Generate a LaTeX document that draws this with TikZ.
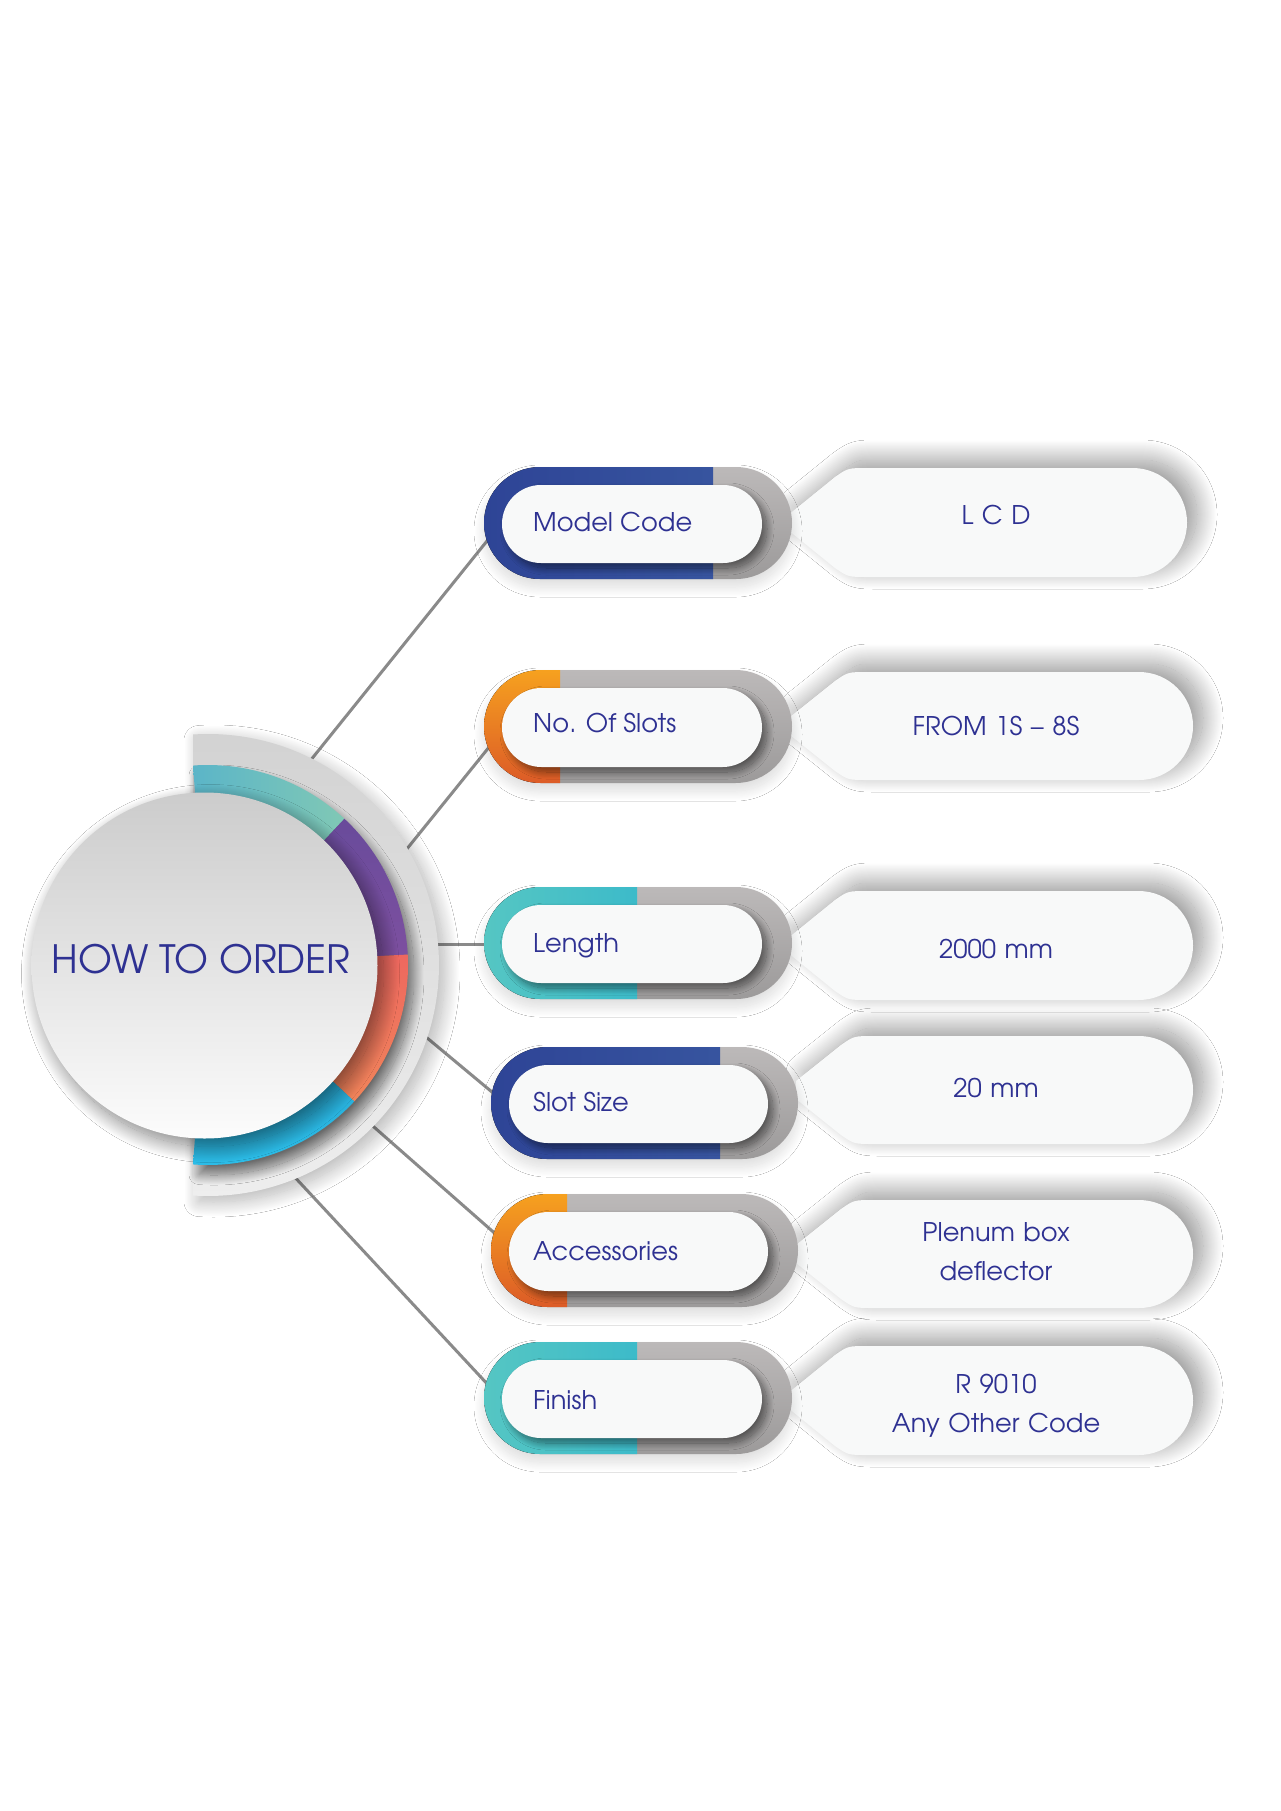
\documentclass[tikz,border=0pt]{standalone}
\usepackage{fontspec}
\setmainfont{TeX Gyre Adventor}
\usetikzlibrary{shapes.misc,shadows.blur,backgrounds}

\definecolor{txt}{HTML}{2E3192}
\definecolor{linegray}{HTML}{8A8A8A}
\definecolor{pillwhite}{HTML}{F8F9F9}
\definecolor{grayA}{HTML}{BCB9B9}
\definecolor{grayB}{HTML}{9C9A9A}
\definecolor{blueA}{HTML}{2E4496}
\definecolor{blueB}{HTML}{3A5AA2}
\definecolor{orangeA}{HTML}{F6A11F}
\definecolor{orangeB}{HTML}{DC5B27}
\definecolor{tealA}{HTML}{55C6C3}
\definecolor{tealB}{HTML}{24AFD0}
\definecolor{diskA}{HTML}{D2D2D2}
\definecolor{diskB}{HTML}{EEEEEE}
\definecolor{hubA}{HTML}{CCCCCC}
\definecolor{hubB}{HTML}{FCFCFC}
\definecolor{ringtealA}{HTML}{5BB5C8}
\definecolor{ringtealB}{HTML}{80C8B5}
\definecolor{purpleA}{HTML}{694B9B}
\definecolor{purpleB}{HTML}{7E50A0}
\definecolor{coralA}{HTML}{EE685F}
\definecolor{coralB}{HTML}{F0845A}
\definecolor{cyanA}{HTML}{2399C6}
\definecolor{cyanB}{HTML}{2CBDE8}

\tikzset{
  conn/.style={draw=linegray, line width=3pt},
  outerpill/.style={rounded rectangle, inner sep=0pt, top color=grayA, bottom color=grayB,
    blur shadow={shadow xshift=0pt, shadow yshift=-8pt, shadow blur radius=10pt, shadow opacity=14, shadow blur steps=30}},
  innerpill/.style={rounded rectangle, inner sep=0pt, fill=pillwhite,
    blur shadow={shadow xshift=5pt, shadow yshift=-5pt, shadow blur radius=7pt, shadow opacity=50, shadow blur steps=20}},
  bluefill/.style={left color=blueA, right color=blueB},
  orangefill/.style={top color=orangeA, bottom color=orangeB},
  tealfill/.style={left color=tealA, right color=tealB},
  lbl/.style={anchor=base west, text=txt, inner sep=0pt, font=\fontsize{25.7}{30}\selectfont},
  val/.style={anchor=base, text=txt, inner sep=0pt, align=center, text width=340pt,
    font=\fontsize{25.7}{39}\selectfont},
  rshadow/.style={blur shadow={shadow xshift=10pt, shadow yshift=8pt, shadow blur radius=20pt, shadow opacity=42, shadow blur steps=40}},
  rfill/.style={fill=pillwhite},
  hubtxt/.style={text=txt, inner sep=0pt, font=\fontsize{39}{42}\selectfont},
}

% #1 name, #2 left x, #3 top y, #4 right x, #5 bottom y, #6 split x, #7 colour style
\newcommand\LeftPill[7]{%
  \node[outerpill, minimum width={#4-#2}, minimum height={#5-#3},
        path picture={\fill[#7] (path picture bounding box.south west) rectangle
          ([xshift={#6-#2}]path picture bounding box.north west);}]
        (#1) at ({(#2+#4)/2},{-(#3+#5)/2}) {};
  \node[innerpill, minimum width={#4-#2-48}, minimum height={#5-#3-34}]
        (#1i) at ({(#2+#4)/2-6},{-(#3+#5)/2-1}) {};
}
% #1 style, #2 tip x, #3 top y, #4 right x, #5 bottom y
\newcommand\RightPill[5]{%
  \pgfmathsetmacro\rpc{(#3+#5)/2}%
  \pgfmathsetmacro\rpr{(#5-#3)/2}%
  \path[#1] (#2,{-(\rpc-9)}) -- ({#2+45},{-(#3+9)})
     .. controls ({#2+58},{-#3}) .. ({#2+78},{-#3})
     -- ({#4-\rpr},{-#3}) arc[start angle=90, end angle=-90, radius=\rpr]
     -- ({#2+78},{-#5}) .. controls ({#2+58},{-#5}) .. ({#2+45},{-(#5-9)})
     -- (#2,{-(\rpc+9)}) -- cycle;
}

\begin{document}
\begin{tikzpicture}[x=1pt,y=1pt]
\useasboundingbox (0,0) rectangle (1280,-1811);

% ---- grey half disk ----
\path[top color=diskA, bottom color=diskB,
  blur shadow={shadow xshift=6pt, shadow yshift=-6pt, shadow blur radius=15pt, shadow opacity=30, shadow blur steps=40}]
  (193,-734.5) arc[start angle=93.72, end angle=-93.72, radius=231] -- cycle;

% ---- coloured ring ----
\path[blur shadow={shadow xshift=6pt, shadow yshift=-10pt, shadow blur radius=10pt, shadow opacity=55, shadow blur steps=30}]
  (193,-765.6) arc[start angle=94.3, end angle=-94.3, radius=200] -- cycle;
\path[left color=ringtealA, right color=ringtealB]
  (208,-965) -- +(94.3:200) arc[start angle=94.3, end angle=47, radius=200] -- cycle;
\path[top color=purpleA, bottom color=purpleB]
  (208,-965) -- +(47:200) arc[start angle=47, end angle=3, radius=200] -- cycle;
\path[top color=coralA, bottom color=coralB]
  (208,-965) -- +(3:200) arc[start angle=3, end angle=-43, radius=200] -- cycle;
\path[top color=cyanA, bottom color=cyanB]
  (208,-965) -- +(-43:200) arc[start angle=-43, end angle=-94.3, radius=200] -- cycle;

% ---- hub ----
\node[circle, minimum size=346pt, inner sep=0pt, top color=hubA, bottom color=hubB,
  blur shadow={shadow xshift=6pt, shadow yshift=-8pt, shadow blur radius=16pt, shadow opacity=50, shadow blur steps=40}]
  (hub) at (204.5,-965.5) {};
\node[hubtxt] (hubtext) at (201,-959) {HOW TO ORDER};

% ---- right value pills: shadows, then fills ----
\RightPill{rshadow}{790}{468}{1187}{577}
\RightPill{rshadow}{790}{672}{1193}{780}
\RightPill{rshadow}{790}{891}{1193}{1000}
\RightPill{rshadow}{796}{1036}{1193}{1144}
\RightPill{rshadow}{796}{1200}{1193}{1308}
\RightPill{rshadow}{790}{1346}{1193}{1455}
\RightPill{rfill}{790}{468}{1187}{577}
\RightPill{rfill}{790}{672}{1193}{780}
\RightPill{rfill}{790}{891}{1193}{1000}
\RightPill{rfill}{796}{1036}{1193}{1144}
\RightPill{rfill}{796}{1200}{1193}{1308}
\RightPill{rfill}{790}{1346}{1193}{1455}

\node[val] (v1) at (996,-524) {L C D};
\node[val] (v2) at (996,-735) {FROM 1S – 8S};
\node[val] (v3) at (996,-958) {2000 mm};
\node[val] (v4) at (996,-1097) {20 mm};
\node[val] (v5) at (996,-1241) {Plenum box\\deflector};
\node[val] (v6) at (996,-1393) {R 9010\\Any Other Code};

% ---- left label pills ----
\LeftPill{L1}{484}{467}{792}{579}{713}{bluefill}
\LeftPill{L2}{484}{670}{792}{783}{560}{orangefill}
\LeftPill{L3}{484}{887}{792}{999}{637}{tealfill}
\LeftPill{L4}{491}{1047}{798}{1159}{720}{bluefill}
\LeftPill{L5}{491}{1194}{798}{1307}{567}{orangefill}
\LeftPill{L6}{484}{1342}{792}{1454}{637}{tealfill}

\node[lbl] (t1) at (533,-531) {Model Code};
\node[lbl] (t2) at (533,-732) {No. Of Slots};
\node[lbl] (t3) at (533,-952) {Length};
\node[lbl] (t4) at (533,-1111) {Slot Size};
\node[lbl] (t5) at (533,-1260) {Accessories};
\node[lbl] (t6) at (533,-1409) {Finish};

% ---- connectors (behind everything) ----
\coordinate (s1) at (306,-766);  \coordinate (e1) at (491,-536);
\coordinate (s2) at (402,-855);  \coordinate (e2) at (494,-741);
\coordinate (s3) at (430,-944);  \coordinate (e3) at (492,-944);
\coordinate (s4) at (420,-1032); \coordinate (e4) at (498,-1097);
\coordinate (s5) at (366,-1120); \coordinate (e5) at (499,-1237);
\coordinate (s6) at (290,-1172); \coordinate (e6) at (491,-1388);
\begin{pgfonlayer}{background}
  \fill[white] (0,0) rectangle (1280,-1811);
  \draw[conn] (s1) -- (e1);
  \draw[conn] (s2) -- (e2);
  \draw[conn] (s3) -- (e3);
  \draw[conn] (s4) -- (e4);
  \draw[conn] (s5) -- (e5);
  \draw[conn] (s6) -- (e6);
\end{pgfonlayer}
\end{tikzpicture}
\end{document}
